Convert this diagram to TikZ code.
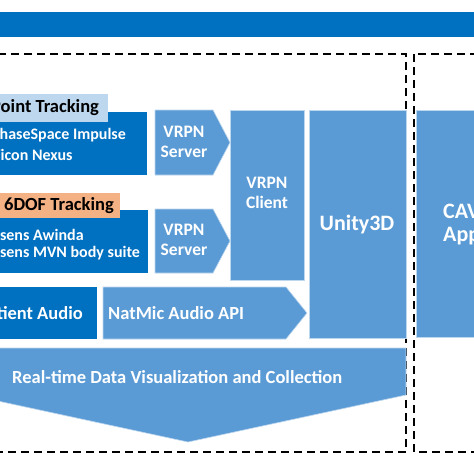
\documentclass[tikz,border=0pt]{standalone}
\usepackage{fontspec}
\setmainfont{Carlito}
\definecolor{darkb}{HTML}{0070C0}
\definecolor{midb}{HTML}{5B9BD5}
\definecolor{lightb}{HTML}{BDD7EE}
\definecolor{orangel}{HTML}{F4B183}
\tikzset{
  dashbox/.style={draw=black, line width=1.4pt, dash pattern=on 8pt off 5pt},
  midshape/.style={fill=midb, draw=white!60!midb, line width=0.6pt},
  darkshape/.style={fill=darkb},
  wtext/.style={text=white, font=\bfseries\fontsize{16}{20}\selectfont, inner sep=0pt},
  wtextl/.style={text=white, font=\bfseries\fontsize{18.5}{20}\selectfont, inner sep=0pt},
  vtext/.style={text=white, font=\bfseries\fontsize{17.5}{20.5}\selectfont, inner sep=0pt},
  btext/.style={text=black, font=\bfseries\fontsize{18.5}{22}\selectfont, inner sep=0pt},
  bigtext/.style={text=white, font=\bfseries\fontsize{22}{23}\selectfont, inner sep=0pt},
}
\begin{document}
\begin{tikzpicture}[x=1pt,y=-1pt]
\useasboundingbox (0,0) rectangle (474,474);
\clip (0,0) rectangle (474,474);
\fill[white] (0,0) rectangle (474,474);
% top bar
\fill[darkb] (-5,12) rectangle (480,37);
% dashed frames
\draw[dashbox] (-10,54) rectangle (406,452);
\draw[dashbox] (414,54) rectangle (490,452);
% point tracking
\fill[darkshape] (-10,112) rectangle (147,175);
\fill[lightb] (-10,94) rectangle (108,122);
\node[btext, anchor=west] (pt) at (-9,108) {Point Tracking};
\node[wtext, anchor=west] (ps) at (-9,135) {PhaseSpace Impulse};
\node[wtext, anchor=west] (vn) at (-9,155) {Vicon Nexus};
% 6DOF tracking
\fill[darkshape] (-10,210) rectangle (148,273);
\fill[orangel] (-10,193) rectangle (120,218);
\node[btext, anchor=west] (sd) at (4,206) {6DOF Tracking};
\node[wtext, anchor=west] (xa) at (-9,235) {Xsens Awinda};
\node[wtext, anchor=west] (xm) at (-9,253) {Xsens MVN body suite};
% VRPN servers
\draw[midshape] (155,110) -- (213,110) -- (230,142.5) -- (213,175) -- (155,175) -- cycle;
\node[vtext, align=center] (vs1) at (184,142) {VRPN\\Server};
\draw[midshape] (155,209) -- (213,209) -- (230,241) -- (213,273) -- (155,273) -- cycle;
\node[vtext, align=center] (vs2) at (184,240) {VRPN\\Server};
% VRPN client
\draw[midshape] (230,110) rectangle (304,280);
\node[vtext, align=center] (vc) at (267,193) {VRPN\\Client};
% Unity
\draw[midshape] (309,110) rectangle (406,338);
\node[bigtext] (un) at (357,225) {Unity3D};
% CAVE
\draw[midshape] (416,110) rectangle (490,337);
\node[bigtext, align=left, anchor=west] (cv) at (443,225) {CAVE\\Application};
% audio
\fill[darkshape] (-10,287) rectangle (97,339);
\node[wtextl, anchor=east] (pa) at (83,313) {Patient Audio};
\draw[midshape] (103,287) -- (286,287) -- (307,313) -- (286,339) -- (103,339) -- cycle;
\node[wtextl, anchor=west] (nm) at (108,313) {NatMic Audio API};
% banner
\draw[midshape] (-30,348) -- (406,348) -- (406,395) -- (188,442) -- (-30,395) -- cycle;
\node[wtextl, anchor=west] (rt) at (12,377) {Real-time Data Visualization and Collection};
\end{tikzpicture}
\end{document}
